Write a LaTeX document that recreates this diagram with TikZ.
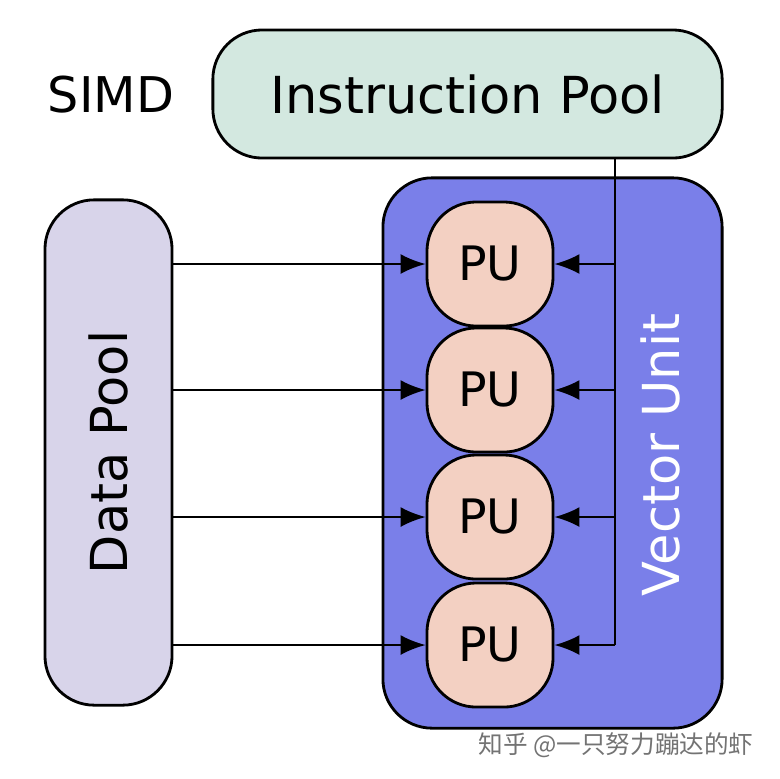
\documentclass[tikz,border=0pt]{standalone}
\usepackage{fontspec}
\setmainfont{DejaVu Sans}
\newfontfamily\cjk{Noto Sans CJK SC}
\usetikzlibrary{arrows.meta}
\usetikzlibrary{positioning}
\definecolor{instfill}{HTML}{D3E8E0}
\definecolor{vecfill}{HTML}{7A7FE9}
\definecolor{datafill}{HTML}{D8D4EA}
\definecolor{pufill}{HTML}{F3D0C2}
\tikzset{>={Latex[width=2mm,length=2.5mm]}}
\tikzset{pool/.style={draw=black, thick, rounded corners=14pt, inner sep=0pt}}
\tikzset{pu/.style={pool, fill=pufill, minimum width=1.26cm, minimum height=1.24cm, font=\fontsize{13.5}{15}\selectfont}}

\begin{document}
\begin{tikzpicture}[x=0.01cm,y=-0.01cm]

  \useasboundingbox (0,0) rectangle (780,778);

  % pools
  \node[pool, fill=instfill, minimum width=5.09cm, minimum height=1.28cm,
        font=\fontsize{14.5}{17}\selectfont] (inst) at (467.5,94) {Instruction Pool};
  \node[pool, fill=vecfill, minimum width=3.39cm, minimum height=5.5cm] (vec) at (552.5,453) {};
  \node[pool, fill=datafill, minimum width=1.27cm, minimum height=5.05cm] (data) at (108.5,452.5) {};
  \node[rotate=90, font=\fontsize{14.5}{17}\selectfont] (datalbl) at (data.center) {Data Pool};
  \node[rotate=90, text=white, font=\fontsize{14.5}{17}\selectfont] (veclbl) at (660,455) {Vector Unit};
  \node[font=\fontsize{14}{17}\selectfont] (simd) at (111,95) {SIMD};

  % processing units
  \node[pu] (pu1) at (490,264) {PU};
  \node[pu] (pu2) at (490,390) {PU};
  \node[pu] (pu3) at (490,517) {PU};
  \node[pu] (pu4) at (490,645) {PU};

  \coordinate (bus) at (615,645);
  \draw[semithick] (inst.south -| bus) -- (bus);
  \foreach \i in {1,...,4}{
    \draw[semithick,->] (data.east |- pu\i) -- (pu\i.west);
    \draw[semithick,->] (bus |- pu\i) -- (pu\i.east);
  }

  \node[text=black!55, font=\cjk\fontsize{7}{9}\selectfont, anchor=east] (mark) at (766,745) {知乎 @一只努力蹦达的虾};

\end{tikzpicture}
\end{document}
